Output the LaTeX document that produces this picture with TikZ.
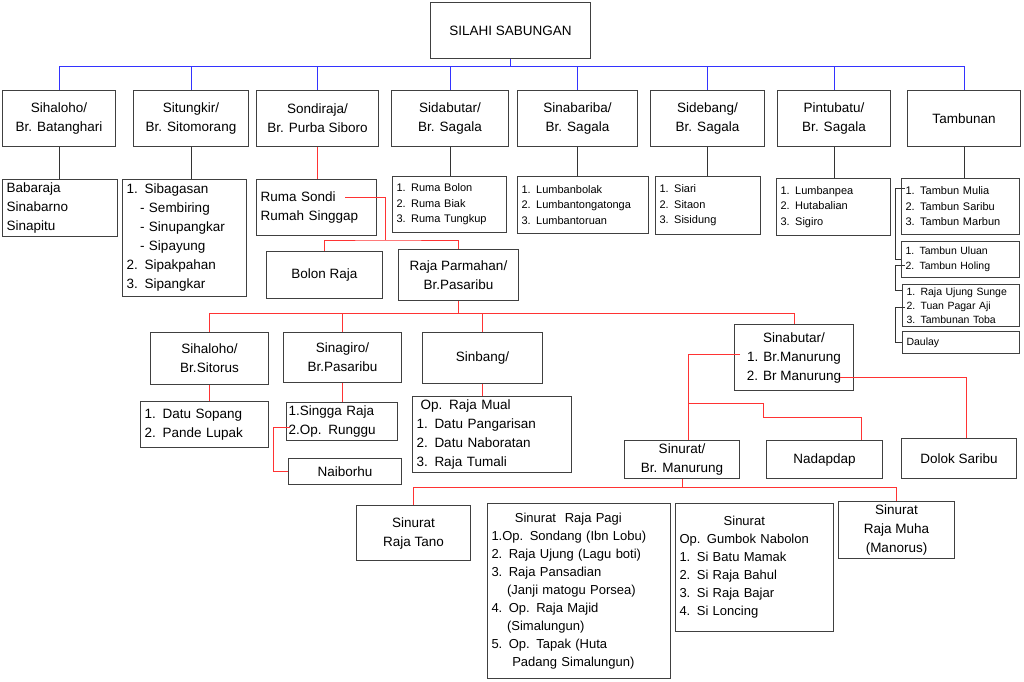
\documentclass[tikz,border=0pt]{standalone}
\usepackage{fontspec}
\setmainfont{Liberation Sans}
\usetikzlibrary{calc}
\tikzset{
  box/.style={draw=black!75,line width=1pt,anchor=north west,inner sep=3pt,align=center,font=\fontsize{13.5}{19}\selectfont},
  lbox/.style={box,align=left,inner xsep=4pt},
  sm/.style={font=\fontsize{11}{15.5}\selectfont},
  bl/.style={draw=blue!80,line width=1pt},
  rl/.style={draw=red!80,line width=1pt},
  kl/.style={draw=black!80,line width=1pt}
}
\begin{document}
\begin{tikzpicture}[x=1pt,y=-1pt]
\useasboundingbox (0,0) rectangle (1024,681);
% top
\node[box,minimum width=160,minimum height=56] (top) at (430,2) {SILAHI SABUNGAN};
% second row
\node[box,minimum width=113,minimum height=56] (sih) at (2,90) {Sihaloho/\\Br. Batanghari};
\node[box,minimum width=115,minimum height=56] (sit) at (133,90) {Situngkir/\\Br. Sitomorang};
\node[box,minimum width=122,minimum height=56] (son) at (256,90) {Sondiraja/\\Br. Purba Siboro};
\node[box,minimum width=117,minimum height=56] (sid) at (391,90) {Sidabutar/\\Br. Sagala};
\node[box,minimum width=120,minimum height=56] (sinb) at (517,90) {Sinabariba/\\Br. Sagala};
\node[box,minimum width=114,minimum height=56] (sdb) at (650,90) {Sidebang/\\Br. Sagala};
\node[box,minimum width=113,minimum height=56] (pin) at (777,90) {Pintubatu/\\Br. Sagala};
\node[box,minimum width=113,minimum height=56] (tam) at (907,90) {Tambunan};
\draw[bl] (top.south) -- ++(0,7) coordinate (b0);
\draw[bl] (sih.north |- b0) -- (tam.north |- b0);
\foreach \n in {sih,sit,son,sid,sinb,sdb,pin,tam}
  \draw[bl] (\n.north) -- (\n.north |- b0);
% third row
\node[lbox,text width=107,minimum height=56] (bab) at (2,179) {Babaraja\\Sinabarno\\Sinapitu};
\node[lbox,text width=116,minimum height=117] (sitl) at (122,179) {1. Sibagasan\\\hspace*{1em}- Sembiring\\\hspace*{1em}- Sinupangkar\\\hspace*{1em}- Sipayung\\2. Sipakpahan\\3. Sipangkar};
\node[lbox,text width=112,minimum height=56] (rs) at (256,179) {Ruma Sondi\\Rumah Singgap};
\node[lbox,sm,text width=106,minimum height=56] (rb) at (392,176) {1. Ruma Bolon\\2. Ruma Biak\\3. Ruma Tungkup};
\node[lbox,sm,text width=123,minimum height=57] (lb) at (517,176) {1. Lumbanbolak\\2. Lumbantongatonga\\3. Lumbantoruan};
\node[lbox,sm,text width=97,minimum height=58] (sia) at (655,176) {1. Siari\\2. Sitaon\\3. Sisidung};
\node[lbox,sm,text width=106,minimum height=57] (lp) at (776,178) {1. Lumbanpea\\2. Hutabalian\\3. Sigiro};
\node[lbox,sm,text width=110,minimum height=56] (tmu) at (901,178) {1. Tambun Mulia\\2. Tambun Saribu\\3. Tambun Marbun};
\node[lbox,sm,text width=110,minimum height=36,font=\fontsize{10.5}{15}\selectfont] (tul) at (901,241) {1. Tambun Uluan\\2. Tambun Holing};
\node[lbox,sm,text width=109,minimum height=42,font=\fontsize{10.5}{14}\selectfont] (ruj) at (902,284) {1. Raja Ujung Sunge\\2. Tuan Pagar Aji\\3. Tambunan Toba};
\node[lbox,sm,text width=109,minimum height=22,font=\fontsize{10.5}{14}\selectfont] (dau) at (902,331) {Daulay};
\foreach \a/\b in {sih/bab,sit/sitl,sid/rb,sinb/lb,sdb/sia,pin/lp,tam/tmu}
  \draw[kl] (\a.south) -- (\a.south |- \b.north);
\draw[kl] ($(tmu.north west)+(4,10)$) -- ++(-10,0) |- (tul.west);
\draw[kl] ($(tul.north west)+(4,24)$) -- ++(-10,0) |- ($(ruj.north west)+(0,6)$);
\draw[kl] ($(ruj.north west)+(3,23)$) -- ++(-10,0) |- (dau.west);
% Sondiraja branch
\draw[rl] (son.south) -- (rs.north -| son.south);
\node[box,minimum width=116,minimum height=47] (bol) at (266,251) {Bolon Raja};
\node[box,minimum width=120,minimum height=51] (rpa) at (398,249) {Raja Parmahan/\\Br.Pasaribu};
\coordinate (j1) at (385,240);
\draw[rl] ($(rs.north west)+(89,18)$) -| (j1);
\draw[rl] (bol.north) |- (j1) -| (rpa.north);
% Raja Parmahan children
\node[box,minimum width=118,minimum height=52] (shs) at (150,332) {Sihaloho/\\Br.Sitorus};
\node[box,minimum width=118,minimum height=50] (sng) at (283,332) {Sinagiro/\\Br.Pasaribu};
\node[box,minimum width=120,minimum height=51] (sbg) at (422,332) {Sinbang/};
\node[box,minimum width=119,minimum height=66] (sbt) at (734,324) {Sinabutar/\\1. Br.Manurung\\2. Br Manurung};
\draw[rl] (rpa.south) -- ++(0,12) coordinate (b1);
\draw[rl] (shs.north |- b1) -- (sbt.north |- b1);
\foreach \n in {shs,sng,sbg,sbt}
  \draw[rl] (\n.north) -- (\n.north |- b1);
\node[lbox,text width=120,minimum height=46] (dsp) at (140,401) {1. Datu Sopang\\2. Pande Lupak};
\node[lbox,text width=107,minimum height=38,inner xsep=2pt] (sgr) at (286,402) {1.Singga Raja\\2.Op. Runggu};
\node[box,minimum width=113,minimum height=26] (nai) at (288,458) {Naiborhu};
\node[lbox,text width=151,minimum height=73] (orm) at (412,396) {\hspace*{0.3em}Op. Raja Mual\\1. Datu Pangarisan\\2. Datu Naboratan\\3. Raja Tumali};
\draw[rl] (shs.south) -- (shs.south |- dsp.north);
\draw[rl] (sng.south) -- (sng.south |- sgr.north);
\draw[rl] (sbg.south) -- (sbg.south |- orm.north);
\draw[rl] ($(sgr.north west)+(4,25)$) -- ++(-17,0) |- (nai.west);
% Sinabutar children
\node[box,minimum width=115,minimum height=38] (sur) at (624,440) {Sinurat/\\Br. Manurung};
\node[box,minimum width=116,minimum height=38] (nad) at (766,440) {Nadapdap};
\node[box,minimum width=115,minimum height=40] (dol) at (901,438) {Dolok Saribu};
\coordinate (sur1) at ($(sur.north)+(6,0)$);
\draw[rl] ($(sbt.north west)+(6,30)$) -| (sur1);
\draw[rl] (sur1 |- 0,403) -- (763,403) -- (763,417) -| ($(nad.north)+(37,0)$);
\draw[rl] ($(sbt.north west)+(106,53)$) -| ($(dol.north)+(7,0)$);
% Sinurat children
\node[box,minimum width=114,minimum height=55] (rtn) at (356,505) {Sinurat\\Raja Tano};
\node[lbox,text width=175,minimum height=175,font=\fontsize{13}{18}\selectfont,inner ysep=4pt] (rpg) at (487,503) {\hspace*{1.8em}Sinurat\ \ Raja Pagi\\1.Op. Sondang (Ibn Lobu)\\2. Raja Ujung (Lagu boti)\\3. Raja Pansadian\\\hspace*{1.2em}(Janji matogu Porsea)\\4. Op. Raja Majid\\\hspace*{1.2em}(Simalungun)\\5. Op. Tapak (Huta\\\hspace*{1.6em}Padang Simalungun)};
\node[lbox,text width=150,minimum height=128,font=\fontsize{13}{18}\selectfont] (gbk) at (675,503) {\hspace*{3.4em}Sinurat\\Op. Gumbok Nabolon\\1. Si Batu Mamak\\2. Si Raja Bahul\\3. Si Raja Bajar\\4. Si Loncing};
\node[box,minimum width=116,minimum height=56] (rmh) at (838,501) {Sinurat\\Raja Muha\\(Manorus)};
\draw[rl] (sur.south) -- ++(0,8) coordinate (b2);
\draw[rl] (rtn.north |- b2) -- (rmh.north |- b2);
\draw[rl] (rtn.north) -- (rtn.north |- b2);
\draw[rl] ($(rpg.north)+(-7,0)$) -- ($(rpg.north)+(-7,0)$ |- b2);
\draw[rl] ($(gbk.north)+(-18,0)$) -- ($(gbk.north)+(-18,0)$ |- b2);
\draw[rl] (rmh.north) -- (rmh.north |- b2);
\end{tikzpicture}
\end{document}
